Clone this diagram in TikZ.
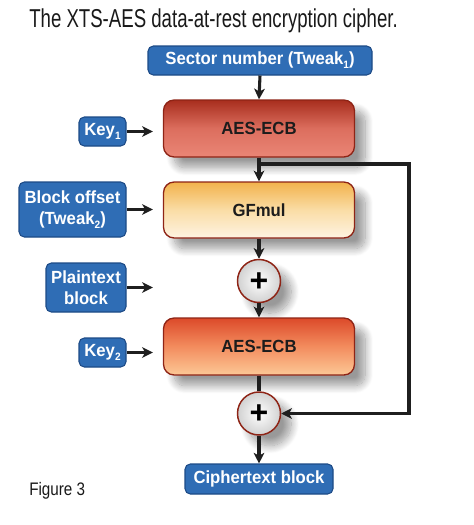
\documentclass[tikz,border=0pt]{standalone}
\usepackage{fontspec}
\setmainfont{Liberation Sans}
\newfontfamily\titlefont[FakeStretch=0.72]{Liberation Sans}
\newfontfamily\figfont[FakeStretch=0.84]{Liberation Sans}
\newfontfamily\lblfont[FakeStretch=0.95]{Liberation Sans}
\usetikzlibrary{arrows.meta,shadows.blur}

\definecolor{bluefill}{HTML}{2F6DB5}
\definecolor{blueedge}{HTML}{1C4A86}
\definecolor{redtop}{HTML}{A82E1E}
\definecolor{redmid}{HTML}{DC6E5E}
\definecolor{redbot}{HTML}{EA8676}
\definecolor{yeltop}{HTML}{F2B24C}
\definecolor{yelmid}{HTML}{FADDA6}
\definecolor{yelbot}{HTML}{FEF3E2}
\definecolor{orgtop}{HTML}{DC4A2A}
\definecolor{orgmid}{HTML}{F38C5E}
\definecolor{orgbot}{HTML}{FCC896}
\definecolor{boxedge}{HTML}{8E2416}
\definecolor{darktext}{HTML}{1C1C1C}

\newcommand\lowsub[1]{\raisebox{-0.45ex}{\fontsize{8}{8}\selectfont #1}}

\begin{document}
\begin{tikzpicture}[x=0.75pt,y=-0.75pt,
  bluebox/.style={draw=blueedge, line width=0.8pt, fill=bluefill,
    rounded corners=4pt, text=white, align=center, inner sep=0pt,
    font=\lblfont\bfseries\fontsize{13.2}{15.5}\selectfont},
  procbox/.style={draw=boxedge, line width=1pt, rounded corners=8pt,
    minimum width=143.25pt, inner sep=0pt, text=darktext,
    font=\lblfont\bfseries\fontsize{13.2}{15.5}\selectfont,
    blur shadow={shadow xshift=8pt, shadow yshift=-8pt, shadow blur radius=6pt, shadow blur steps=14, shadow opacity=40}},
  xorbox/.style={circle, draw=boxedge, line width=1.1pt, minimum size=32.25pt,
    inner sep=0pt, inner color=white, outer color=black!18,
    blur shadow={shadow xshift=8pt, shadow yshift=-8pt, shadow blur radius=6pt, shadow blur steps=14, shadow opacity=40}},
  arr/.style={line width=2.3pt, draw=black!88, line join=miter,
    -{Stealth[length=8pt,width=8pt,inset=2.2pt]}},
  plainline/.style={line width=2.3pt, draw=black!88}
]
\useasboundingbox (0,0) rectangle (474,525);

% title and figure label
\node[anchor=base west, inner sep=0pt, font=\titlefont\fontsize{19.4}{22}\selectfont, text=black!90]
  (title) at (29,27) {The XTS-AES data-at-rest encryption cipher.};
\node[anchor=base west, inner sep=0pt, font=\figfont\fontsize{13.6}{15}\selectfont, text=black!90]
  (fig) at (29,495) {Figure 3};

% blue input/output boxes
\node[bluebox, minimum width=168pt, minimum height=21.75pt] (sec) at (260,60.5)
  {Sector number (Tweak\lowsub{1})};
\node[bluebox, minimum width=35.25pt, minimum height=21.75pt] (k1) at (102.5,131.5)
  {Key\lowsub{1}};
\node[bluebox, minimum width=80.25pt, minimum height=41.25pt] (bo) at (72.5,209.5)
  {Block offset\\(Tweak\lowsub{2})};
\node[bluebox, minimum width=60pt, minimum height=36.75pt] (pt) at (86,287.5)
  {Plaintext\\block};
\node[bluebox, minimum width=35.25pt, minimum height=21.75pt] (k2) at (102.5,352.5)
  {Key\lowsub{2}};
\node[bluebox, minimum width=111pt, minimum height=22.5pt] (ct) at (259,479)
  {Ciphertext block};

% processing boxes
\node[procbox, minimum height=42.75pt, top color=redtop, bottom color=redbot, middle color=redmid] (aes1) at (259,128.5) {AES-ECB};
\node[procbox, minimum height=42pt, top color=yeltop, bottom color=yelbot, middle color=yelmid] (gf) at (259,210) {GFmul};
\node[xorbox] (x1) at (259,281) {};
\node[font=\bfseries\fontsize{24}{24}\selectfont, inner sep=0pt] (x1p) at (259,282) {+};
\node[procbox, minimum height=42.75pt, top color=orgtop, bottom color=orgbot, middle color=orgmid] (aes2) at (259,346.5) {AES-ECB};
\node[xorbox] (x2) at (259,413.5) {};
\node[font=\bfseries\fontsize{24}{24}\selectfont, inner sep=0pt] (x2p) at (259,414.5) {+};

% connectors
\draw[arr] (sec.south) -- (aes1.north);
\draw[arr] (aes1.south) -- (gf.north);
\draw[arr] (gf.south) -- (x1.north);
\draw[arr] (x1.south) -- (aes2.north);
\draw[plainline] (aes2.south) -- (x2.north);
\draw[arr] (x2.south) -- (ct.north);

\coordinate (br) at (259,164);
\coordinate (fb) at (409,164);
\draw[arr] (br) -- (fb) |- (x2.east);

\draw[arr, shorten >=7.5pt] (k1.east) -- (k1.east -| aes1.west);
\draw[arr, shorten >=7.5pt] (bo.east) -- (bo.east -| gf.west);
\draw[arr, shorten >=7.5pt] (pt.east) -- (pt.east -| gf.west);
\draw[arr, shorten >=7.5pt] (k2.east) -- (k2.east -| aes2.west);
\end{tikzpicture}
\end{document}
